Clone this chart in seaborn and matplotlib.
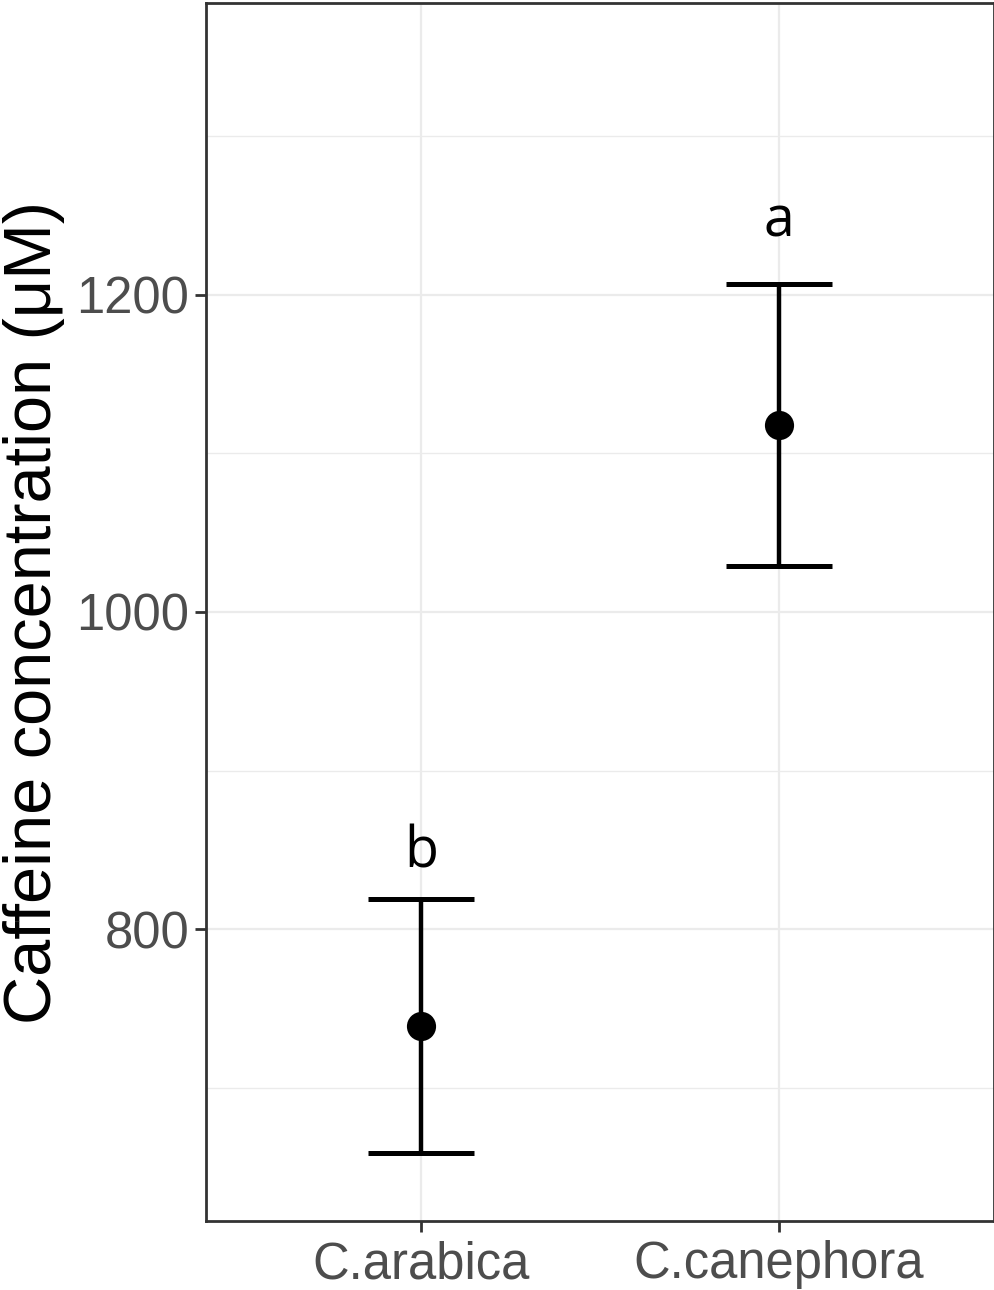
import numpy as np
import pandas as pd
from matplotlib import pyplot as plt
import seaborn as sns

# Values (mean +/- error, in uM)
species = ['C.arabica', 'C.canephora']
means = [739, 1118]
errors = [80, 89]
letters = ['b', 'a']
letter_y = [839, 1237]

df = pd.DataFrame({'species': species, 'mean': means, 'err': errors})

sns.set_theme(style='white')
plt.rcParams['font.family'] = ['Liberation Sans', 'DejaVu Sans']

fig = plt.figure(figsize=(9.95, 12.9), dpi=100)
ax = fig.add_axes([206/995, 69/1290, 788/995, 1218/1290])

# grid like theme_bw
for v in [700, 900, 1100, 1300]:
    ax.axhline(v, color='#EBEBEB', lw=1.0, zorder=0)
for v in [800, 1000, 1200]:
    ax.axhline(v, color='#EBEBEB', lw=1.6, zorder=0)
for i in range(len(species)):
    ax.axvline(i, color='#EBEBEB', lw=1.6, zorder=0)

x = np.arange(len(species))
ax.errorbar(x, df['mean'], yerr=df['err'], fmt='none', ecolor='black',
            elinewidth=3.2, capsize=38, capthick=3.6, zorder=2)
sns.stripplot(data=df, x='species', y='mean', jitter=False, color='black',
              size=21, ax=ax, zorder=3)

for i, (lab, ly) in enumerate(zip(letters, letter_y)):
    ax.text(i, ly, lab, ha='center', va='baseline', fontsize=40,
            family=['Open Sans', 'DejaVu Sans'], color='black')

ax.set_xlim(-0.6, 1.6)
ax.set_ylim(616, 1384)
ax.set_yticks([800, 1000, 1200])
ax.set_xlabel('')
ax.set_ylabel('Caffeine concentration (μM)', fontsize=48, color='black', labelpad=8)
ax.tick_params(axis='both', labelsize=36.5, labelcolor='#4D4D4D', color='#333333',
               length=8, width=2, direction='out', left=True, bottom=True)
ax.tick_params(axis='y', pad=4)
ax.tick_params(axis='x', pad=6)
for s in ax.spines.values():
    s.set_color('#333333')
    s.set_linewidth(2)

fig.savefig('out.png', dpi=100)
